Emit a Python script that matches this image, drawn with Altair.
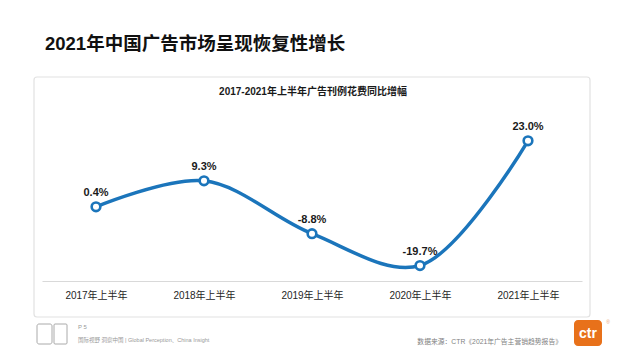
import altair as alt
import pandas as pd

# ---- data ----
periods = ["2017年上半年", "2018年上半年", "2019年上半年", "2020年上半年", "2021年上半年"]
growth = [0.4, 9.3, -8.8, -19.7, 23.0]
labels = ["0.4%", "9.3%", "-8.8%", "-19.7%", "23.0%"]

main_title = "2021年中国广告市场呈现恢复性增长"
chart_title = "2017-2021年上半年广告刊例花费同比增幅"
page_no = "P 5"
slogan = "国际视野  洞察中国 | Global Perception、China Insight"
source = "数据来源：CTR《2021年广告主营销趋势报告》"

df = pd.DataFrame({"period": periods, "growth": growth, "label": labels})

FONT = "Liberation Sans, Noto Sans CJK SC"
BLUE = "#1b75bb"
ORANGE = "#e8711a"

one = alt.Data(values=[{}])

x = alt.X(
    "period:N",
    sort=periods,
    scale=alt.Scale(type="point", padding=0.5),
    axis=alt.Axis(
        title=None, labelAngle=0, domainColor="#d9d9d9", domainWidth=1,
        ticks=False, labelPadding=9, labelFontSize=10, labelColor="#262626",
        labelFont=FONT, grid=False, zindex=1,
    ),
)
y = alt.Y("growth:Q", scale=alt.Scale(domain=[-25, 25], nice=False, zero=False), axis=None)

panel = alt.Chart(one).mark_rect(
    fill="white", stroke="#e2e2e2", strokeWidth=1.2, cornerRadius=3
).encode(x=alt.value(-8), x2=alt.value(548), y=alt.value(-58), y2=alt.value(182))

base = alt.Chart(df)
line = base.mark_line(interpolate="catmull-rom", color=BLUE, strokeWidth=3.5).encode(x=x, y=y)
pts = base.mark_point(filled=True, fill="white", stroke=BLUE, strokeWidth=2.6, size=75, opacity=1).encode(x=x, y=y)
lbl = base.mark_text(dy=-14, fontSize=11, fontWeight="bold", color="#1a1a1a", font=FONT).encode(
    x=x, y=y, text="label:N"
)

def txt(t, px, py, **kw):
    return alt.Chart(one).mark_text(text=t, font=FONT, **kw).encode(x=alt.value(px), y=alt.value(py))

title_t = txt(main_title, 3, -91, fontSize=18.5, fontWeight="bold", color="#111111", align="left", baseline="middle")
sub_t = txt(chart_title, 271, -43, fontSize=10, fontWeight="bold", color="#1a1a1a", align="center", baseline="middle")
page_t = txt(page_no, 36, 192, fontSize=6, color="#999999", align="left", baseline="middle")
slogan_t = txt(slogan, 36, 205, fontSize=5.5, color="#999999", align="left", baseline="middle")
source_t = txt(source, 520, 207, fontSize=6.8, color="#7f7f7f", align="right", baseline="middle")

icon1 = alt.Chart(one).mark_rect(fill="white", stroke="#aaaaaa", strokeWidth=1, cornerRadius=2).encode(
    x=alt.value(-5), x2=alt.value(10), y=alt.value(189), y2=alt.value(209))
icon2 = alt.Chart(one).mark_rect(fill="white", stroke="#aaaaaa", strokeWidth=1, cornerRadius=1).encode(
    x=alt.value(12), x2=alt.value(25), y=alt.value(189), y2=alt.value(209))
logo = alt.Chart(one).mark_rect(fill=ORANGE, cornerRadius=4).encode(
    x=alt.value(532), x2=alt.value(560), y=alt.value(185), y2=alt.value(211))
logo_t = txt("ctr", 546, 199, fontSize=14, fontWeight="bold", color="white", align="center", baseline="middle")
reg_t = txt("®", 566, 187, fontSize=5, color="#e8a070", align="center", baseline="middle")

chart = alt.layer(
    panel, line, pts, lbl, title_t, sub_t, page_t, slogan_t, source_t, icon1, icon2, logo, logo_t, reg_t
).properties(
    width=540,
    height=146,
    autosize=alt.AutoSizeParams(type="none"),
    padding={"left": 34, "top": 127, "right": 48, "bottom": 66},
    background="white",
).configure_view(stroke=None)

chart.save("out.html", embed_options={"renderer": "svg", "actions": False})
